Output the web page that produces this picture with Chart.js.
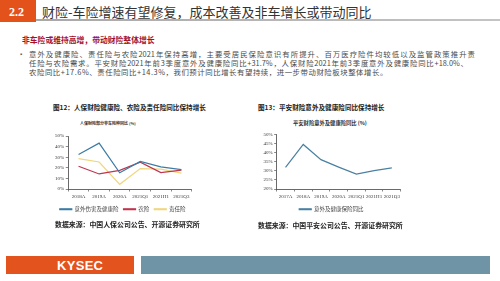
<!DOCTYPE html>
<html lang="zh-CN">
<head>
<meta charset="UTF-8">
<title>财险-车险增速有望修复</title>
<script src="https://cdn.jsdelivr.net/npm/chart.js"></script>
<style>
    html, body { margin: 0; padding: 0; background: #fff; }
    body { width: 500px; height: 281px; position: relative; overflow: hidden;
           font-family: 'Liberation Serif', 'Noto Sans CJK SC', serif; }
    .abs { position: absolute; white-space: nowrap; line-height: 1; }
    .sec_box { left: 0; top: 0; width: 36px; height: 22px; background: #e4521b; }
    .sec_num { left: 9px; top: 6px; font-size: 12px; font-weight: bold; color: #fff; }
    .titulo { left: 42px; top: 5px; font-size: 13px; color: #333; font-family: 'Noto Sans CJK SC', sans-serif; }
    .linha_topo { left: 36px; top: 19px; width: 464px; height: 2px; background: linear-gradient(to right, #a8a8a8, #c4c4c4); }
    .subtitulo { left: 22px; top: 36px; font-size: 7.8px; font-weight: bold; color: #a3122b; font-family: 'Noto Sans CJK SC', sans-serif; }
    .txt { font-size: 7.4px; color: #4a4a4a; font-family: 'Noto Sans CJK SC', sans-serif; }
    .just { text-align: justify; text-align-last: justify; }
    .bullet { left: 20px; top: 51px; font-size: 6px; color: #555; }
    .fig_titulo { font-size: 6.6px; font-weight: bold; color: #222; font-family: 'Noto Sans CJK SC', sans-serif; }
    .titulo_interno { font-weight: bold; color: #333; font-family: 'Noto Sans CJK SC', sans-serif; }
    .fonte { font-size: 6.9px; font-weight: bold; color: #222; font-family: 'Noto Sans CJK SC', sans-serif; }
    canvas { position: absolute; }
    .rodape_a { left: 6px; top: 256px; width: 128px; height: 18px; background: #e2531d; }
    .rodape_b { left: 141px; top: 256px; width: 349px; height: 18px; background: #6e94a6; }
    .kysec { left: 57px; top: 259px; font-size: 13px; font-weight: bold; color: #fff; font-family: 'Liberation Sans', Arial, sans-serif; letter-spacing: 0.3px; }
</style>
</head>
<body>
    <div class="abs sec_box"></div>
    <div class="abs sec_num">2.2</div>
    <div class="abs titulo">财险-车险增速有望修复，成本改善及非车增长或带动同比</div>
    <div class="abs linha_topo"></div>

    <div class="abs subtitulo">非车险或维持高增，带动财险整体增长</div>
    <div class="abs bullet">▪</div>
    <div class="abs txt just" style="left:29px; top:50px; width:446px;">意外及健康险、责任险与农险2021年保持高增，主要受居民保险意识有所提升、百万医疗险件均较低以及监管政策推升责</div>
    <div class="abs txt just" style="left:29px; top:59px; width:439px;">任险与农险需求。平安财险2021年前3季度意外及健康险同比+31.7%，人保财险2021年前3季度意外及健康险同比+18.0%、</div>
    <div class="abs txt" style="left:29px; top:68px; letter-spacing:0.55px;">农险同比+17.6%、责任险同比+14.3%，我们预计同比增长有望持续，进一步带动财险板块整体增长。</div>

    <div class="abs fig_titulo" style="left:53px; top:104px;">图12：人保财险健康险、农险及责任险同比保持增长</div>
    <div class="abs fig_titulo" style="left:258px; top:104px;">图13：平安财险意外及健康险同比保持增长</div>
    <div class="abs titulo_interno" style="left:80px; top:121px; font-size:4px;">人保财险部分非车险种同比 (%)</div>
    <div class="abs titulo_interno" style="left:293px; top:120.5px; font-size:5.3px;">平安财险意外及健康险同比 (%)</div>

    <canvas id="graficoPicc" width="165" height="102" style="left:38px; top:120px;"></canvas>
    <canvas id="graficoPingan" width="165" height="102" style="left:246px; top:120px;"></canvas>

    <div class="abs fonte" style="left:55px; top:221px;">数据来源：中国人保公司公告、开源证券研究所</div>
    <div class="abs fonte" style="left:258px; top:222px;">数据来源：中国平安公司公告、开源证券研究所</div>

    <div class="abs rodape_a"></div>
    <div class="abs rodape_b"></div>
    <div class="abs kysec">KYSEC</div>

<script>
    // dados (%)
    var periodosPicc = ['2018A', '2019A', '2020A', '2021Q1', '2021H1', '2021Q3'];
    var piccAcidente = [32.5, 43.3, 15.3, 26, 20.8, 18.3];
    var piccAgricola = [21.5, 14.2, 17.6, 25.3, 15.5, 17.8];
    var piccResponsab = [28.7, 25.5, 4.4, 19.3, 18.8, 15];
    var ticksPicc = [0, 10, 20, 30, 40, 50];

    var periodosPingan = ['2017A', '2018A', '2019A', '2020A', '2021Q1', '2021H1', '2021Q3'];
    var pinganAcidente = [31.9, 44.6, 36.2, 32.1, 28.2, 30.2, 31.7];
    var ticksPingan = [20, 25, 30, 35, 40, 45, 50];

    var fonteSerif = "'Liberation Serif', 'Noto Sans CJK SC', serif";

    function eixos(ticks) {
        return {
            x: {
                offset: true,
                grid: { display: true, offset: true, drawOnChartArea: false, drawTicks: true, tickLength: 2.5, color: '#555', lineWidth: 0.7 },
                border: { display: true, color: '#444', width: 0.8 },
                ticks: { autoSkip: false, maxRotation: 0, minRotation: 0, padding: 2, color: '#333', font: { family: fonteSerif, size: 5 } }
            },
            y: {
                min: ticks[0],
                max: ticks[ticks.length - 1],
                afterBuildTicks: function (scale) { scale.ticks = ticks.map(function (v) { return { value: v }; }); },
                grid: { display: true, drawOnChartArea: false, drawTicks: true, tickLength: 2.5, color: '#555', lineWidth: 0.7 },
                border: { display: true, color: '#444', width: 0.8 },
                ticks: { padding: 1.5, color: '#333', font: { family: fonteSerif, size: 5 },
                         callback: function (v) { return v + '%'; } }
            }
        };
    }

    function serie(rotulo, dados, cor) {
        return { label: rotulo, data: dados, borderColor: cor, backgroundColor: cor,
                 borderWidth: 1.2, pointRadius: 0, tension: 0, fill: false };
    }

    function opcoes(ticks, pad) {
        return {
            responsive: false,
            animation: false,
            devicePixelRatio: 1,
            layout: { padding: pad },
            scales: eixos(ticks),
            plugins: {
                title: { display: false },
                legend: { display: true, position: 'bottom',
                          labels: { boxWidth: 12, boxHeight: 1, padding: 5, color: '#444',
                                    font: { family: fonteSerif, size: 5.5 } } },
                tooltip: { enabled: false }
            }
        };
    }

    new Chart(document.getElementById('graficoPicc'), {
        type: 'line',
        data: {
            labels: periodosPicc,
            datasets: [
                serie('意外伤害及健康险', piccAcidente, '#3b7ca5'),
                serie('农险', piccAgricola, '#c0344e'),
                serie('责任险', piccResponsab, '#f0d67c')
            ]
        },
        options: opcoes(ticksPicc, { left: 15.6, right: 11.3, top: 16, bottom: 0 })
    });

    new Chart(document.getElementById('graficoPingan'), {
        type: 'line',
        data: {
            labels: periodosPingan,
            datasets: [serie('意外及健康保险同比', pinganAcidente, '#4a80a2')]
        },
        options: opcoes(ticksPingan, { left: 16, right: 10.3, top: 14.7, bottom: 0 })
    });
</script>
</body>
</html>
